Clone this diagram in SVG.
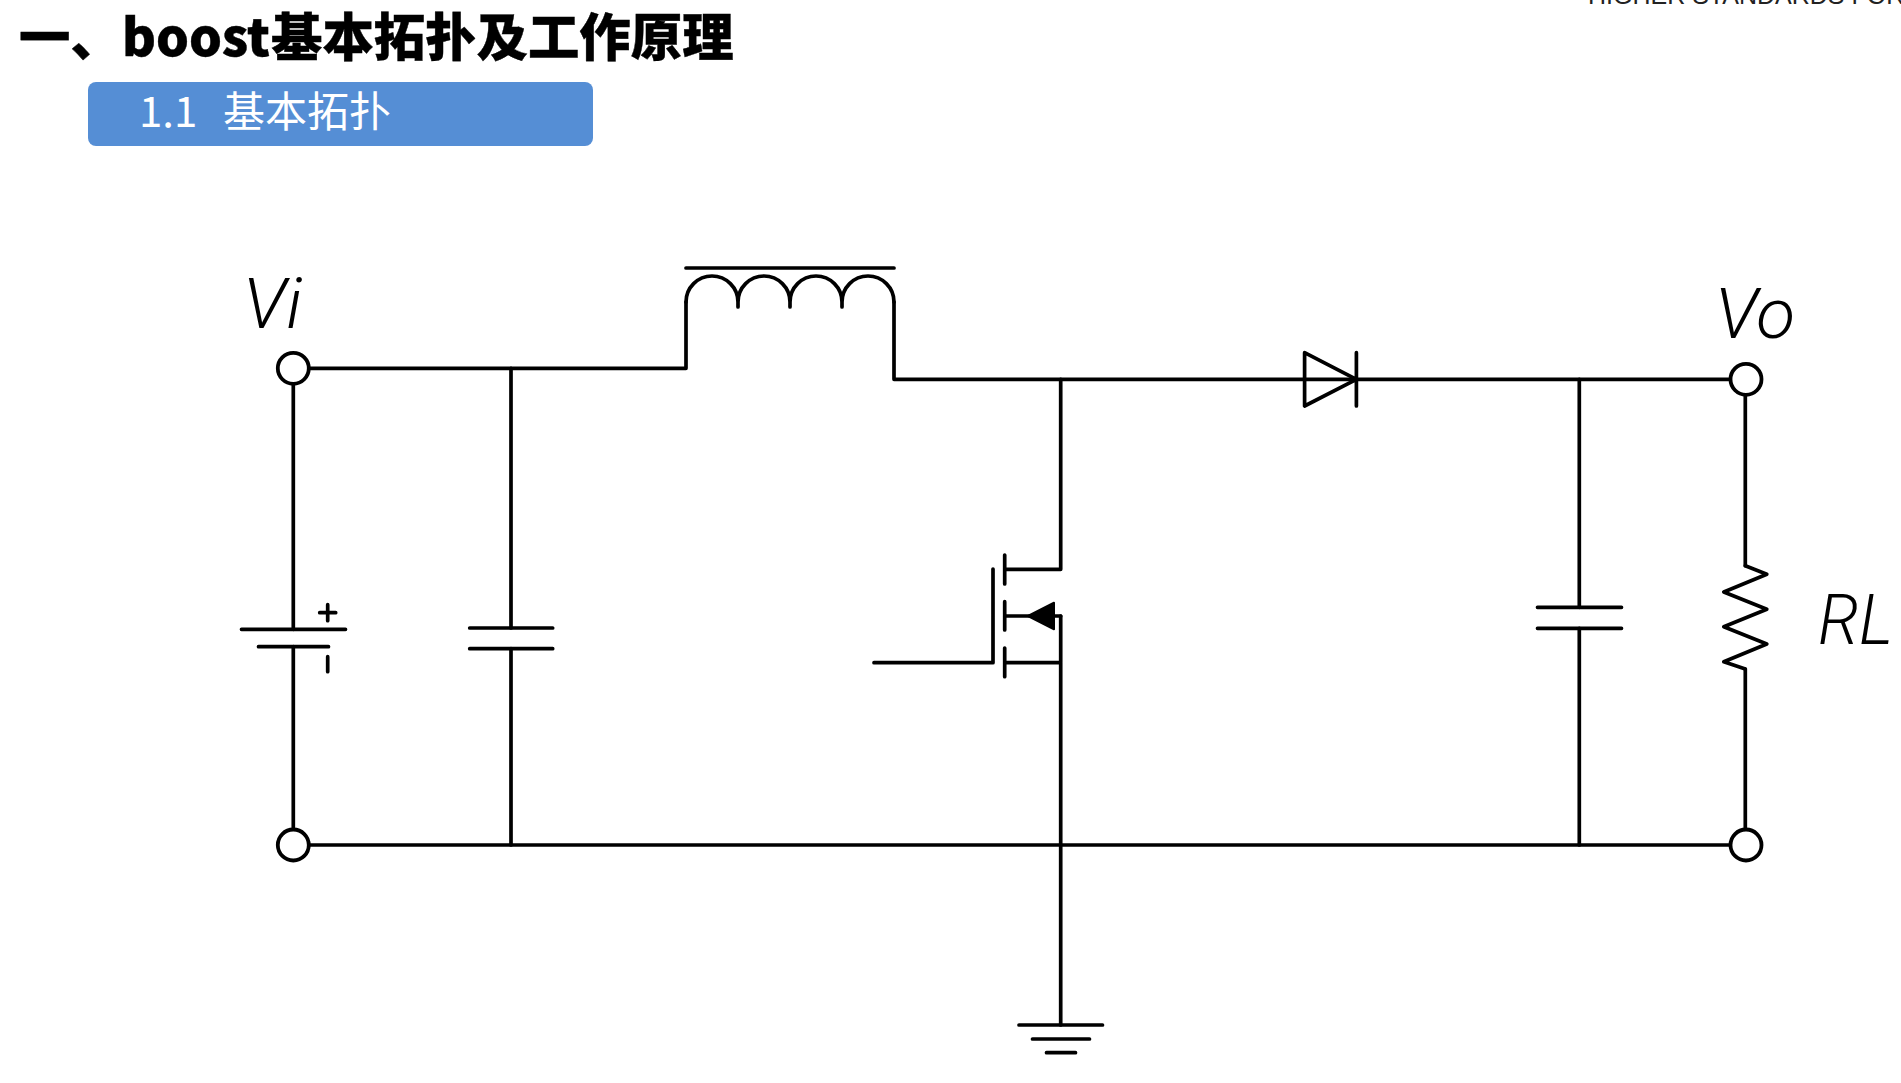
<svg xmlns="http://www.w3.org/2000/svg" width="1901" height="1083" viewBox="0 0 1901 1083">
<style>
.w{fill:none;stroke:#000;stroke-width:3.7;stroke-linecap:round;stroke-linejoin:round}
.t{fill:#fff;stroke:#000;stroke-width:3.8}
.lab{font-family:Roboto,"Liberation Sans",sans-serif;font-weight:300;font-style:italic;font-size:71px;fill:#000}
.title{font-family:"Noto Sans CJK SC","Liberation Sans",sans-serif;font-weight:900;font-size:51.4px;fill:#000;stroke:#000;stroke-width:.4}
.sub{font-family:"Noto Sans CJK SC","Liberation Sans",sans-serif;font-weight:400;font-size:42px;fill:#fff}
</style>
<rect width="1901" height="1083" fill="#fff"/>
<g id="heading">
<text class="title" x="19" y="56">一、</text>
<text class="title" x="122" y="56" textLength="148" lengthAdjust="spacingAndGlyphs">boost</text>
<text class="title" x="271" y="56">基本拓扑及工作原理</text>
</g>
<g id="section">
<rect x="88" y="82" width="505" height="64" rx="8" fill="#558ed5"/>
<text class="sub" x="139" y="127" font-family="Liberation Sans">1.1</text>
<text class="sub" x="223" y="127">基本拓扑</text>
</g>
<text id="tagline" x="1588" y="3.5" font-family="Liberation Sans, sans-serif" font-size="25" fill="#222">HIGHER STANDARDS FOR</text>
<g id="connectors">
<path class="w" d="M293.3 368.3H686V302M894 302V379.3H1745.5"/>
<path class="w" d="M511 368.3V628M511 648.7V845"/>
<path class="w" d="M293.3 368.3V629.3M293.3 646.7V845"/>
<path class="w" d="M293.3 845H1745.5"/>
<path class="w" d="M1060.7 379.3V569.3H1005M1005 662.7H1060.7M1060.7 616V1025"/>
<path class="w" d="M1579.3 379.3V607.3M1579.3 628.3V845"/>
<path class="w" d="M1745.3 379.3V565.7M1745.3 669V845"/>
</g>
<g id="Vi"><circle class="t" cx="293.3" cy="368.3" r="15.5"/><text class="lab" x="243" y="328" textLength="59" lengthAdjust="spacingAndGlyphs">Vi</text></g>
<g id="Vin-return"><circle class="t" cx="293.3" cy="845" r="15.5"/></g>
<g id="Vo"><circle class="t" cx="1746" cy="379.3" r="15.5"/><text class="lab" x="1715" y="338" textLength="80" lengthAdjust="spacingAndGlyphs">Vo</text></g>
<g id="Vo-return"><circle class="t" cx="1746" cy="845" r="15.5"/></g>
<g id="battery">
<path class="w" d="M241.5 629.3H345.5M258.5 646.7H328.5M319.7 612.7H335.7M327.7 604.7V620.7M327.7 656.7V671.7"/>
</g>
<g id="C1"><path class="w" d="M469.7 628H552.7M469.7 648.7H552.7"/></g>
<g id="inductor">
<path class="w" d="M686 268H894"/>
<path class="w" d="M686 302A26 26 0 0 1 738 302V307M738 302A26 26 0 0 1 790 302V307M790 302A26 26 0 0 1 842 302V307M842 302A26 26 0 0 1 894 302"/>
</g>
<g id="mosfet">
<path class="w" d="M1004.7 555V584M1004.7 601.7V630M1004.7 648V676.7M993 569V662.7H874M1004.7 616H1060.7"/>
<path d="M1028 616L1054 602.7V629.3Z" fill="#000" stroke="#000" stroke-width="2" stroke-linejoin="round"/>
</g>
<g id="ground"><path class="w" d="M1019 1025H1102.5M1032.5 1039H1089.5M1046.5 1052.7H1075.5"/></g>
<g id="diode"><path class="w" d="M1304.6 352.7L1356.4 379.3L1304.6 406ZM1356.4 352.7V406"/></g>
<g id="C2"><path class="w" d="M1537.5 607.3H1621.5M1537.5 628.3H1621.5"/></g>
<g id="RL">
<path class="w" d="M1745.3 565.7L1766.8 574.3L1723.8 592L1766.8 609.3L1723.8 626.7L1766.8 644L1723.8 661.7L1745.3 669"/>
<text class="lab" x="1818" y="644" textLength="75" lengthAdjust="spacingAndGlyphs">RL</text>
</g>
</svg>
